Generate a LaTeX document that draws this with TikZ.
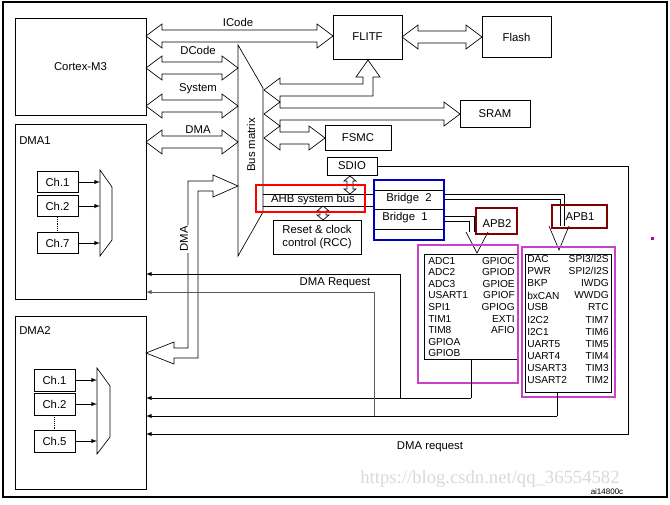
\documentclass[tikz,border=0pt]{standalone}
\usepackage{fontspec}
\setmainfont{Liberation Sans}
\newfontfamily\wm{Liberation Serif}
\begin{document}
\begin{tikzpicture}[x=0.75pt,y=-0.75pt,
  box/.style={draw,line width=0.6pt},
  lbl/.style={font=\fontsize{8.5}{9}\selectfont,inner sep=0pt},
  per/.style={font=\fontsize{7.6}{8}\selectfont,inner sep=0pt},
  ln/.style={line width=0.5pt},
  hol/.style={draw,line width=0.5pt,fill=white},
  req/.style={ln,-latex},
  rbox/.style={draw=red,line width=2pt},
  bbox/.style={draw=blue!75!black,line width=2pt},
  pbox/.style={draw=violet!55!magenta!75,line width=2.2pt},
  dbox/.style={draw=red!50!black,line width=2pt}]
\useasboundingbox (0,0) rectangle (670,504);
\newcommand\hda[3]{\draw[hol] (#1,#3) -- ({#1+16},{#3-12}) -- ({#1+16},{#3-6}) -- ({#2-16},{#3-6}) -- ({#2-16},{#3-12}) -- (#2,#3) -- ({#2-16},{#3+12}) -- ({#2-16},{#3+6}) -- ({#1+16},{#3+6}) -- ({#1+16},{#3+12}) -- cycle;}
\newcommand\vda[3]{\draw[hol] (#1,#2) -- ({#1-6},{#2+5}) -- ({#1-3},{#2+5}) -- ({#1-3},{#3-5}) -- ({#1-6},{#3-5}) -- (#1,#3) -- ({#1+6},{#3-5}) -- ({#1+3},{#3-5}) -- ({#1+3},{#2+5}) -- ({#1+6},{#2+5}) -- cycle;}
% frame
\draw[line width=0.8pt] (3,2) rectangle (667,497);
% CPU & DMA
\node[box,minimum width=131*0.75pt,minimum height=97*0.75pt,lbl] (cpu) at (80.5,66.5) {Cortex-M3};
\draw[box] (15,124) rectangle (146,299);
\node[lbl,anchor=west] (dma1) at (19,141) {DMA1};
\draw[box] (15,316) rectangle (146,489);
\node[lbl,anchor=west] (dma2) at (19,331) {DMA2};
\foreach \n/\t/\y in {a1/Ch.1/182,a2/Ch.2/206,a7/Ch.7/243}{
  \node[box,lbl,minimum width=41*0.75pt,minimum height=21*0.75pt] (\n) at (57.5,\y) {\t};
  \draw[-latex,ln] (\n.east) -- (100,\y);}
\draw[densely dotted] (a2.south) -- (a7.north);
\draw[ln] (100,170) -- (112,187) -- (112,240) -- (100,256) -- cycle;
\foreach \n/\t/\y in {b1/Ch.1/380,b2/Ch.2/404,b5/Ch.5/441}{
  \node[box,lbl,minimum width=41*0.75pt,minimum height=22*0.75pt] (\n) at (54.5,\y) {\t};
  \draw[-latex,ln] (\n.east) -- (97,\y);}
\draw[densely dotted] (b2.south) -- (b5.north);
\draw[ln] (97,368) -- (110,386) -- (110,437) -- (97,454) -- cycle;
% bus matrix
\draw[ln] (238,45) -- (263,88) -- (263,212) -- (238,256) -- cycle;
\node[lbl,rotate=90] (bm) at (251,145) {Bus matrix};
% boxes
\node[box,lbl,minimum width=69*0.75pt,minimum height=44*0.75pt] (flitf) at (367.5,37) {FLITF};
\node[box,lbl,minimum width=69*0.75pt,minimum height=41*0.75pt] (flash) at (516.5,37) {Flash};
\node[box,lbl,minimum width=70*0.75pt,minimum height=27*0.75pt] (sram) at (495,113.5) {SRAM};
\node[box,lbl,minimum width=66*0.75pt,minimum height=25*0.75pt] (fsmc) at (358,137.5) {FSMC};
\node[box,lbl,minimum width=50*0.75pt,minimum height=18*0.75pt] (sdio) at (352,166) {SDIO};
\node[box,lbl,minimum width=88*0.75pt,minimum height=34*0.75pt,align=center] (rcc) at (317,237) {Reset \& clock\\[1pt]control (RCC)};
% hollow arrows
\hda{146}{333}{36}
\hda{146}{238}{68}
\hda{146}{238}{106}
\hda{146}{238}{142}
\hda{402}{482}{37}
\hda{264}{460}{114}
\hda{264}{325}{138}
\node[lbl,fill=white,inner sep=1pt] (ic) at (238,22) {ICode};
\node[lbl,fill=white,inner sep=1pt] (dc) at (198,50) {DCode};
\node[lbl,fill=white,inner sep=1pt] (sy) at (198,89) {System};
\node[lbl,fill=white,inner sep=1pt] (dm) at (198,130) {DMA};
% bent arrow bus -> FLITF
\draw[hol] (264,90) -- (280,78) -- (280,84) -- (363,84) -- (363,77) -- (356,77) -- (368,60) -- (380,77) -- (373,77) -- (373,96) -- (280,96) -- (280,102) -- cycle;
% bent arrow bus -> DMA2
\draw[hol] (238,186) -- (213,175) -- (213,181) -- (188,181) -- (188,348) -- (174,348) -- (174,342) -- (146,353) -- (174,364) -- (174,358) -- (198,358) -- (198,191) -- (213,191) -- (213,197) -- cycle;
\node[lbl,rotate=90,fill=white,inner sep=1pt] (dmal) at (184,239) {DMA};
% AHB
\draw[ln] (263,194) -- (373,194) (263,206) -- (373,206);
\node[lbl] (ahb) at (313,200) {AHB system bus};
\vda{350}{176}{194}
\vda{323}{206}{220}
% bridges
\draw[ln] (373,190) -- (443,190) (373,209) -- (443,209) (373,229) -- (443,229);
\node[lbl] (br2) at (409,199) {Bridge\ \ 2};
\node[lbl] (br1) at (405,218) {Bridge\ \ 1};
\draw[ln] (443,194) -- (564,194) -- (564,226);
\draw[ln] (443,199) -- (560,199) -- (560,226);
\draw[ln] (549,226) -- (559,250) -- (569,226);
\draw[ln] (443,216) -- (474,216) -- (474,232);
\draw[ln] (443,221) -- (469,221) -- (469,232);
\draw[ln] (466,232) -- (477,253) -- (488,232);
% peripheral boxes
\draw[box] (424,254) rectangle (517,359);
\draw[box] (525,254) rectangle (611,392);
\foreach \t [count=\i] in {ADC1,ADC2,ADC3,USART1,SPI1,TIM1,TIM8,GPIOA,GPIOB}
  \node[per,anchor=west] (pl\i) at (428,{249+11.6*\i}) {\t};
\foreach \t [count=\i] in {GPIOC,GPIOD,GPIOE,GPIOF,GPIOG,EXTI,AFIO}
  \node[per,anchor=east] (pr\i) at (515,{249+11.6*\i}) {\t};
\foreach \t [count=\i] in {DAC,PWR,BKP,bxCAN,USB,I2C2,I2C1,UART5,UART4,USART3,USART2}
  \node[per,anchor=west] (ql\i) at (527,{247+12.1*\i}) {\t};
\foreach \t [count=\i] in {SPI3/I2S,SPI2/I2S,IWDG,WWDG,RTC,TIM7,TIM6,TIM5,TIM4,TIM3,TIM2}
  \node[per,anchor=east] (qr\i) at (609,{247+12.1*\i}) {\t};
% colored boxes
\draw[rbox] (256,185) rectangle (365,212);
\draw[bbox] (374,180) rectangle (444,240);
\draw[dbox] (476,208) rectangle (517,234);
\node[lbl] (apb2) at (497,224) {APB2};
\draw[dbox] (552,205) rectangle (607,228);
\node[lbl] (apb1) at (580,217) {APB1};
\draw[pbox] (418,245) rectangle (518,383);
\draw[pbox] (522,247) rectangle (615,397);
% DMA request lines
\draw[ln] (471,359) -- (471,398);
\draw[req] (471,398) -- (146,398);
\draw[req] (400,398) -- (400,274) -- (146,274);
\draw[ln] (557,392) -- (557,416);
\draw[req] (557,416) -- (146,416);
\draw[req,gray!70!black] (374,416) -- (374,292) -- (146,292);
\node[lbl] (dreq1) at (335,283) {DMA Request};
\draw[req] (sdio.east) -- (628,166) -- (628,434) -- (146,434);
\node[lbl] (dreq2) at (430,447) {DMA request};
% misc
\node[font=\wm\fontsize{14}{14}\selectfont,text=gray!30,inner sep=0pt] (wm) at (490,479) {https://blog.csdn.net/qq\_36554582};
\node[font=\fontsize{6}{6}\selectfont,inner sep=0pt] (ai) at (607,492) {ai14800c};
\fill[violet!60!magenta] (651,237) rectangle (654,240);
\end{tikzpicture}
\end{document}
